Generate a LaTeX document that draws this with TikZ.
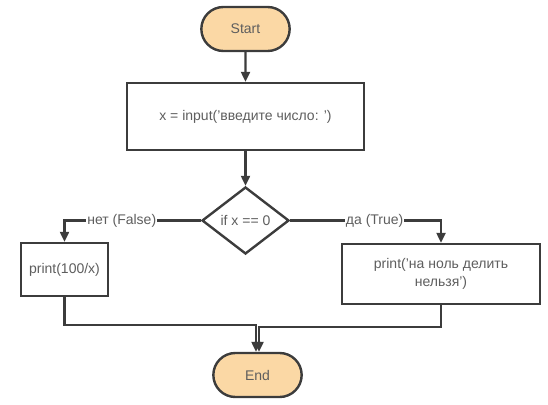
\documentclass[tikz,border=0pt]{standalone}
\usepackage{fontspec}
\setmainfont{Liberation Sans}
\usetikzlibrary{arrows.meta, shapes.misc, shapes.geometric}
\definecolor{linegray}{HTML}{3C3C3C}
\definecolor{textgray}{HTML}{5E5E5E}
\definecolor{termfill}{HTML}{FBD8A5}

\begin{document}
\begin{tikzpicture}[
        x=1pt, y=-1pt,
        every node/.style={
            font=\fontsize{14}{18}\selectfont,
            text=textgray,
        },
        my-term/.style={
            draw=linegray,
            line width=2.4pt,
            rounded rectangle,
            fill=termfill,
            minimum width=95pt,
            minimum height=44pt,
        },
        my-box/.style={
            draw=linegray,
            line width=2.4pt,
            fill=white,
            align=center,
        },
        my-cond/.style={
            draw=linegray,
            line width=2.4pt,
            diamond,
            aspect=1.3,
            fill=white,
            minimum width=87pt,
            minimum height=67pt,
            inner sep=0pt,
        },
        my-line/.style={
            draw=linegray,
            line width=2.2pt,
            -{Triangle[length=10pt, width=9pt]},
        },
        my-label/.style={
            fill=white,
            inner sep=1pt,
        },
    ]
    \useasboundingbox (0,0) rectangle (548,404);

    \node[my-term] (start) at (245.5, 29) {Start};
    \node[my-box, minimum width=237pt, minimum height=67pt] (input) at (245.5, 116.5) {x = input('введите число: ')};
    \node[my-cond] (cond) at (245.5, 220.5) {if x == 0};
    \node[my-box, minimum width=87pt, minimum height=53pt] (print-left) at (64.5, 269.5) {print(100/x)};
    \node[my-box, minimum width=198pt, minimum height=60pt] (print-right) at (441, 274) {print('на ноль делить\\ нельзя')};
    \node[my-term] (stop) at (257.5, 375) {End};

    \draw[my-line] (start) -- (input);
    \draw[my-line] (input) -- (cond);

    \draw[my-line] (cond.west) -| node[my-label, pos=0.29] (no-label) {нет (False)} (print-left.north);
    \draw[my-line] (cond.east) -| node[my-label, pos=0.28] (yes-label) {да (True)} (print-right.north);

    \draw[my-line] (print-left.south) -- ++(0, 28) -| ([xshift=-1.5pt]stop.north);
    \draw[my-line] (print-right.south) -- ++(0, 22) -| ([xshift=1.5pt]stop.north);
\end{tikzpicture}
\end{document}
